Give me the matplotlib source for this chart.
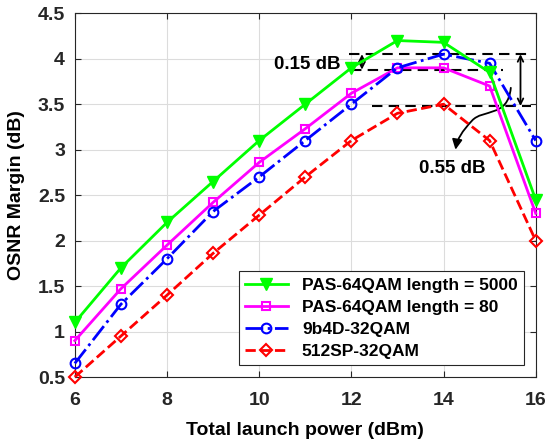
import numpy as np
import matplotlib.pyplot as plt
from matplotlib.path import Path
from matplotlib.patches import FancyArrowPatch

plt.rcParams['font.family'] = ['Liberation Sans', 'DejaVu Sans']
plt.rcParams['font.weight'] = 'bold'

power = [6, 7, 8, 9, 10, 11, 12, 13, 14, 15, 16]
pas5000 = [1.1, 1.7, 2.2, 2.65, 3.1, 3.5, 3.9, 4.2, 4.18, 3.85, 2.45]
pas80 = [0.9, 1.47, 1.95, 2.42, 2.86, 3.23, 3.62, 3.9, 3.9, 3.7, 2.3]
b4d = [0.65, 1.3, 1.8, 2.32, 2.7, 3.1, 3.5, 3.9, 4.05, 3.95, 3.1]
sp512 = [0.5, 0.95, 1.4, 1.86, 2.28, 2.7, 3.1, 3.4, 3.5, 3.1, 2.0]
labels = ['PAS-64QAM length = 5000', 'PAS-64QAM length = 80',
          '9b4D-32QAM', '512SP-32QAM']

fig = plt.figure(figsize=(5.5, 4.42), dpi=100)
ax = fig.add_axes([0.136, 0.147, 0.838, 0.823])

ax.plot(power, pas5000, '-v', color='#00ff00', lw=2, ms=8, mfc='#00ff00', label=labels[0], clip_on=False, zorder=5)
ax.plot(power, pas80, '-s', color='#ff00ff', lw=2, ms=6, mfc='none', mew=1.5, label=labels[1], clip_on=False, zorder=4)
ax.plot(power, b4d, '-.o', color='#0000ff', lw=2, ms=7, mfc='none', mew=1.5, label=labels[2], clip_on=False, zorder=4)
ax.plot(power, sp512, '--D', color='#ff0000', lw=2, ms=6, mfc='none', mew=1.5, label=labels[3], clip_on=False, zorder=3)

# reference levels
ax.plot([11.95, 15.9], [4.05, 4.05], 'k--', lw=1.5, dashes=(5, 3))
ax.plot([12.0, 15.3], [3.88, 3.88], 'k--', lw=1.5, dashes=(5, 3))
ax.plot([12.45, 15.9], [3.48, 3.48], 'k--', lw=1.5, dashes=(5, 3))

ax.annotate('', xy=(12.23, 3.88), xytext=(12.23, 4.05),
            arrowprops=dict(arrowstyle='<->', color='k', lw=1.3, shrinkA=0, shrinkB=0))
ax.annotate('', xy=(15.67, 3.48), xytext=(15.67, 4.05),
            arrowprops=dict(arrowstyle='<->', color='k', lw=1.3, shrinkA=0, shrinkB=0))
ax.text(11.05, 3.94, '0.15 dB', fontsize=13.5, fontweight='bold', ha='center', va='center')
ax.text(14.2, 2.79, '0.55 dB', fontsize=13.5, fontweight='bold', ha='center', va='center')

curve = Path([(15.46, 3.68), (15.4, 3.35), (14.85, 3.45), (14.62, 3.32),
              (14.4, 3.2), (14.3, 3.12), (14.26, 3.0)],
             [Path.MOVETO, Path.CURVE4, Path.CURVE4, Path.CURVE4,
              Path.CURVE4, Path.CURVE4, Path.CURVE4])
ax.add_patch(FancyArrowPatch(path=curve, arrowstyle='-|>,head_length=6,head_width=3',
                             color='k', lw=1.3))

ax.set_xlim(6, 16)
ax.set_ylim(0.5, 4.5)
ax.set_xticks([6, 8, 10, 12, 14, 16])
ax.set_yticks(np.arange(0.5, 4.51, 0.5))
ax.set_yticklabels(['0.5', '1', '1.5', '2', '2.5', '3', '3.5', '4', '4.5'])
ax.grid(True, color='#dcdcdc', lw=0.8)
ax.set_axisbelow(True)
ax.tick_params(direction='in', labelsize=14, color='#262626', length=4, top=True, right=True,
               labeltop=False, labelright=False, labelcolor='#262626')
ax.tick_params(axis='x', pad=11)
ax.tick_params(axis='y', pad=7)
for sp in ax.spines.values():
    sp.set_color('#262626')
ax.set_xlabel('Total launch power (dBm)', fontsize=14, fontweight='bold', labelpad=9)
ax.set_ylabel('OSNR Margin (dB)', fontsize=14, fontweight='bold', labelpad=9)

leg = ax.legend(loc='lower right', bbox_to_anchor=(0.974, 0.033), fontsize=12.5,
                frameon=True, fancybox=False, framealpha=1, edgecolor='#262626',
                handlelength=2.5, borderaxespad=0, labelspacing=0.4, borderpad=0.35)
leg.get_frame().set_linewidth(0.8)

fig.savefig('out.png', dpi=100)
